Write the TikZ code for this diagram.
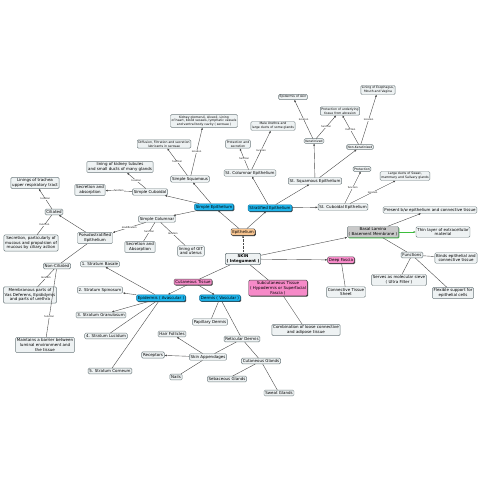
\documentclass[tikz,border=0pt]{standalone}
\usepackage{fontspec}
\setmainfont{DejaVu Sans}
\usetikzlibrary{arrows.meta,shadows}

\definecolor{boxfill}{HTML}{EEF2F3}
\definecolor{boxline}{HTML}{6E7B7E}
\definecolor{cyanfill}{HTML}{1DB3EA}
\definecolor{cyanline}{HTML}{0B6E99}
\definecolor{pinkfill}{HTML}{F68AC8}
\definecolor{orangefill}{HTML}{F7C490}
\definecolor{lamfill}{HTML}{C9C9C9}
\definecolor{lamline}{HTML}{3DBE3D}

\begin{document}
\begin{tikzpicture}[x=1pt,y=-1pt,
    box/.style={draw=boxline, fill=boxfill, rounded corners=1.2pt, line width=0.45pt,
        inner sep=1.3pt, align=center, font=\fontsize{4}{4.8}\selectfont},
    smallbox/.style={box, inner sep=1.1pt, font=\fontsize{3.1}{3.8}\selectfont},
    shade/.style={drop shadow={shadow xshift=0.8pt, shadow yshift=-0.8pt, fill=black!85, opacity=0.9}},
    cyanbox/.style={box, fill=cyanfill, draw=cyanline, shade},
    pinkbox/.style={box, fill=pinkfill, draw=black!70, shade},
    orangebox/.style={box, fill=orangefill, draw=black!70, shade},
    lambox/.style={box, fill=lamfill, draw=boxline,
        drop shadow={shadow xshift=0.9pt, shadow yshift=-0.9pt, fill=lamline, opacity=1}},
    lbl/.style={font=\fontsize{2.4}{2.8}\selectfont, fill=white, inner sep=0.3pt},
    con/.style={draw=black!70, line width=0.4pt},
    arr/.style={con, -{Latex[length=2.2pt,width=2pt]}}]

    \path[fill=white] (0,0) rectangle (481,481);

    \node[box] (tra) at (35,183) {Linings of trachea\\upper respiratory tract};
    \node[box] (kid) at (120,167) {lining of kidney tubules\\and small ducts of many glands};
    \node[box] (secabsa) at (90,190) {Secretion and\\absorption};
    \node[box] (scub) at (150,192) {Simple Cuboidal};
    \node[smallbox] (diff) at (164,144) {Diffusion, Filtration and secretion\\lubricants in serosae};
    \node[smallbox] (glom) at (204,121) {Kidney glomeruli, Alveoli, Lining\\of heart, blood vessels, lymphatic vessels\\and ventral body cavity ( serosae )};
    \node[box] (ssq) at (190,179) {Simple Squamous};
    \node[cyanbox] (sepi) at (214,207) {Simple Epithelium};
    \node[cyanbox] (strat) at (270,208) {Stratified Epithelium};
    \node[orangebox] (epi) at (243,232) {Epithelium};
    \node[box, line width=0.6pt, font=\fontsize{4}{4.8}\selectfont\bfseries] (skin) at (243,259) {SKIN\\( Integument )};
    \node[pinkbox] (cut) at (193,282) {Cutaneous Tissue};
    \node[pinkbox] (subc) at (278,288) {Subcutaneous Tissue\\( Hypodermis or Superfacial\\Fascia )};
    \node[cyanbox] (epid) at (161,298) {Epidermis ( Avascular )};
    \node[cyanbox] (derm) at (220,298) {Dermis ( Vascular )};
    \node[pinkbox] (deep) at (341,260) {Deep Fascia};
    \node[box] (cts) at (346,292) {Connective Tissue\\Sheet};
    \node[lambox] (basal) at (373,232) {Basal Lamina\\( Basement Membrane )};
    \node[box] (pres) at (430,210) {Present b/w epithelium and connective tissue};
    \node[box] (thin) at (443,232) {Thin layer of extracellular\\material};
    \node[box] (func) at (412,255) {Functions};
    \node[box] (binds) at (456,258) {Binds epithelial and\\connective tissue};
    \node[box] (sieve) at (399,280) {Serves as molecular sieve\\( Ultra Filter )};
    \node[box] (flex) at (453,293) {Flexible support for\\epithelial cells};
    \node[box] (comb) at (306,330) {Combination of loose connective\\and adipose tissue};

    \node[box] (stcub) at (343,207) {St. Cuboidal Epithelium};
    \node[box] (stsq) at (315,181) {St. Squamous Epithelium};
    \node[box] (stcol) at (250,173) {St. Columnar Epithelium};
    \node[smallbox] (protsec) at (238,144) {Protection and\\secretion};
    \node[smallbox] (male) at (273,126) {Male Urethra and\\large ducts of some glands};
    \node[smallbox] (epskin) at (293,97) {Epidermis of skin};
    \node[smallbox] (kera) at (314,141) {Keratinized};
    \node[smallbox] (protab) at (340,111) {Protection of underlying\\tissue from abrasion};
    \node[smallbox] (nonk) at (360,147) {Non-Keratinized};
    \node[smallbox] (eso) at (378,90) {Lining of Esophagus,\\Mouth and Vagina};
    \node[smallbox] (prot) at (362,169) {Protection};
    \node[smallbox] (large) at (405,176) {Large ducts of Sweat,\\mammary and Salivary glands};

    \node[box] (scol) at (157,219) {Simple Columnar};
    \node[box] (pseudo) at (95,238) {Pseudostratified\\Epithelium};
    \node[box] (cil) at (54,212) {Ciliated};
    \node[box] (secmuc) at (31,243) {Secretion, particularly of\\mucous and propulsion of\\mucous by ciliary action};
    \node[box] (secabsb) at (140,247) {Secretion and\\Absorption};
    \node[box] (git) at (191,251) {lining of GIT\\and uterus};
    \node[box] (noncil) at (57,266) {Non-Ciliated};
    \node[box] (memb) at (30,295) {Membranous parts of\\Vas Deferens, Epididymis\\and parts of urethra};
    \node[box] (barrier) at (45,345) {Maintains a barrier between\\luminal environment and\\the tissue};
    \node[box] (sba) at (100,264) {1. Stratum Basale};
    \node[box] (sbb) at (100,290) {2. Stratum Spinosum};
    \node[box] (sbc) at (101,315) {3. Stratum Granulosum};
    \node[box] (sbd) at (106,336) {4. Stratum Lucidum};
    \node[box] (sbe) at (110,371) {5. Stratum Corneum};

    \node[box] (pap) at (210,322) {Papillary Dermis};
    \node[box] (ret) at (242,339) {Reticular Dermis};
    \node[box] (hair) at (172,334) {Hair Follicles};
    \node[box] (app) at (208,357) {Skin Appendages};
    \node[box] (rec) at (153,355) {Receptors};
    \node[box] (nails) at (176,377) {Nails};
    \node[box] (cgl) at (261,361) {Cutaneous Glands};
    \node[box] (seb) at (227,379) {Sebaceous Glands};
    \node[box] (sweat) at (279,393) {Sweat Glands};

    \path[arr] (epi) edge (sepi) edge (strat);
    \path[arr, densely dotted, line width=0.5pt] (skin) edge (epi);
    \path[arr] (sepi) edge (ssq) edge (scub) edge (scol);
    \path[arr] (ssq) edge node[lbl] {function} (diff) edge node[lbl] {location} (glom);
    \path[arr] (scub) edge node[lbl] {location} (kid) edge node[lbl] {function} (secabsa);
    \path[arr] (scol) edge node[lbl] {modification} (pseudo);
    \path[con] (scol) edge node[lbl] {function} (secabsb) edge node[lbl] {location} (git);
    \path[arr] (pseudo) edge (cil);
    \path[con] (pseudo) edge (noncil);
    \path[arr] (cil) edge node[lbl] {location} (tra);
    \path[con] (cil) edge node[lbl] {function} (secmuc);
    \path[con] (noncil) edge node[lbl] {location} (memb) edge node[lbl, pos=0.7] {function} (barrier);

    \path[arr] (strat) edge (stcol) edge (stsq) edge (stcub);
    \path[arr] (stcol) edge node[lbl] {function} (protsec) edge node[lbl] {location} (male);
    \path[arr] (stsq) edge (kera) edge (nonk);
    \path[arr] (kera) edge node[lbl] {location} (epskin) edge node[lbl] {function} (protab);
    \path[arr] (nonk) edge node[lbl] {function} (protab) edge node[lbl] {location} (eso);
    \path[arr] (stcub) edge node[lbl] {function} (prot) edge node[lbl] {location} (large);

    \path[con] (skin) edge (cut) edge (subc);
    \path[arr] (skin) edge (basal) edge (deep);
    \path[arr] (cut) edge (epid) edge (derm);
    \path[arr] (epid) edge (sba) edge (sbb) edge (sbc);
    \path[con] (epid) edge (sbd) edge (sbe);
    \path[con] (derm) edge (pap) edge (ret);
    \path[con] (ret) edge (app) edge (cgl);
    \path[arr] (app) edge (hair) edge (rec);
    \path[con] (app) edge (nails);
    \path[con] (cgl) edge (seb) edge (sweat);
    \path[con] (subc) edge (comb);
    \path[con] (deep) edge (cts);
    \path[arr] (basal) edge (pres);
    \path[arr, draw=lamline, line width=0.8pt] (basal) edge (thin);
    \path[con] (basal) edge (func);
    \path[con] (func) edge (binds) edge (sieve) edge (flex);

\end{tikzpicture}
\end{document}
